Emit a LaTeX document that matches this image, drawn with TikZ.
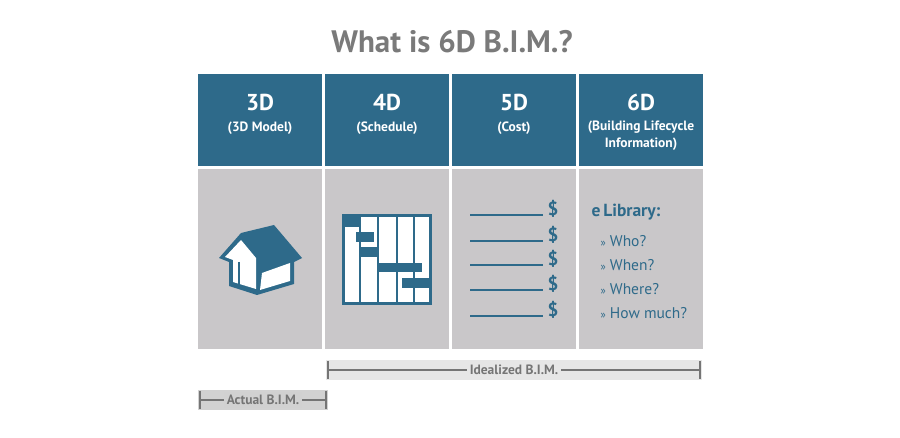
\documentclass[tikz,border=0pt]{standalone}
\usepackage{fontspec}
\setmainfont{PT Sans}
\begin{document}
\begin{tikzpicture}[x=1pt,y=-1pt,
  htitle/.style={text=white,font=\bfseries\fontsize{23}{25}\selectfont},
  hsub/.style={text=white,align=center,font=\bfseries\fontsize{13.5}{17}\selectfont},
  item/.style={text=bim,anchor=west,font=\fontsize{15.5}{17}\selectfont},
  dol/.style={text=bim,font=\bfseries\fontsize{19}{20}\selectfont},
  brk/.style={draw=dgray,line width=2pt},
  blbl/.style={text=dgray,font=\bfseries\fontsize{13.5}{15}\selectfont,fill=bargray,inner sep=3pt}]
\definecolor{bim}{HTML}{2E6A8A}
\definecolor{bgray}{HTML}{C9C7C9}
\definecolor{dgray}{HTML}{757575}
\definecolor{bargray}{HTML}{E6E6E6}
\definecolor{ttl}{HTML}{7A7A7A}
\useasboundingbox (0,0) rectangle (900,438);
\node[text=ttl,font=\bfseries\fontsize{31}{33}\selectfont] (title) at (452,42) {What is 6D B.I.M.?};
\foreach \x in {198,325,452,579}{
  \fill[bim] (\x,74) rectangle ++(124,92);
  \fill[bgray] (\x,169) rectangle ++(124,180);
}
\node[htitle] (h3) at (260,102) {3D};
\node[hsub] (s3) at (260,128) {(3D Model)};
\node[htitle] (h4) at (387,102) {4D};
\node[hsub] (s4) at (387,128) {(Schedule)};
\node[htitle] (h5) at (514,102) {5D};
\node[hsub] (s5) at (514,128) {(Cost)};
\node[htitle] (h6) at (641,102) {6D};
\node[hsub] (s6) at (641,136) {(Building Lifecycle\\Information)};
% house
\fill[bim] (219,258)--(241,233)--(274,225)--(302,258)--(294,262)--(294,284)--(257,295)--(229,286)--(229,262)--cycle;
\fill[white] (225,257)--(241,240)--(256,258)--(256,289)--(233,282)--(233,260)--cycle;
\fill[white] (262,273)--(290,263)--(290,281)--(260,290)--cycle;
\draw[bim,line width=2pt] (239,262)--(239,285);
% schedule
\fill[bim] (342,214) rectangle (432,305);
\fill[white] (345,217) rectangle (429,302);
\foreach \x in {360,378,397,414} \draw[bim,line width=2.5pt] (\x,217)--(\x,302);
\fill[bim] (345,217) rectangle (360,227);
\fill[bim] (356,232) rectangle (374,242);
\fill[bim] (360,247) rectangle (378,257);
\fill[bim] (378,263) rectangle (422,272);
\fill[bim] (402,278) rectangle (429,288);
% cost
\foreach \y in {215,241,265,290,316}{
  \draw[bim,line width=2.5pt] (470,\y)--(543,\y);
  \node[dol] at (553,\y-6) {\$};
}
% 6D
\node[text=bim,anchor=west,font=\bfseries\fontsize{17.5}{19}\selectfont] (el) at (588,212) {e\,Library:};
\node[item] (i1) at (597,241) {{\fontsize{11}{11}\selectfont»} Who?};
\node[item] (i2) at (597,265) {{\fontsize{11}{11}\selectfont»} When?};
\node[item] (i3) at (597,289) {{\fontsize{11}{11}\selectfont»} Where?};
\node[item] (i4) at (597,313) {{\fontsize{11}{11}\selectfont»} How much?};
% bars
\fill[bargray] (326,360) rectangle (702,380);
\coordinate (il) at (328,370); \coordinate (ir) at (700,370);
\node[blbl] (ideal) at (514,370) {Idealized B.I.M.};
\draw[brk] (il)--(ideal.west) (ideal.east)--(ir);
\draw[brk] (328,361)--(328,379) (700,361)--(700,379);
\fill[bargray!80!gray] (198,390) rectangle (328,410);
\coordinate (al) at (200,400); \coordinate (ar) at (326,400);
\node[blbl,fill=bargray!80!gray] (act) at (263,400) {Actual B.I.M.};
\draw[brk] (al)--(act.west) (act.east)--(ar);
\draw[brk] (200,391)--(200,409) (326,391)--(326,409);
\end{tikzpicture}
\end{document}
